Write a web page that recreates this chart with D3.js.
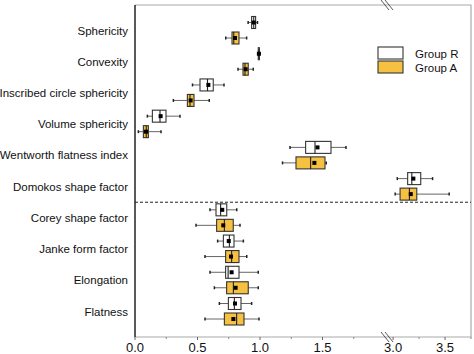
<!DOCTYPE html>
<html>
<head>
<meta charset="utf-8">
<script src="https://cdn.jsdelivr.net/npm/d3@7"></script>
<style>
  body { margin: 0; background: #fff; }
  svg { display: block; font-family: "Liberation Sans", Arial, sans-serif; }
</style>
</head>
<body>
<svg></svg>
<script>
const [svgWidth, svgHeight] = [474, 354];

const categories = ['Sphericity', 'Convexity', 'Inscribed circle sphericity', 'Volume sphericity',
  'Wentworth flatness index', 'Domokos shape factor', 'Corey shape factor', 'Janke form factor',
  'Elongation', 'Flatness'];
// [whisker low, Q1, median, Q3, whisker high, mean]
const groupR = [
  [0.905, 0.933, 0.950, 0.965, 0.980, 0.950],
  [0.982, 0.986, 0.991, 0.995, 1.000, 0.991],
  [0.460, 0.520, 0.580, 0.626, 0.712, 0.587],
  [0.099, 0.139, 0.200, 0.248, 0.360, 0.205],
  [1.240, 1.365, 1.440, 1.568, 1.688, 1.460],
  [3.040, 3.140, 3.180, 3.266, 3.380, 3.195],
  [0.600, 0.648, 0.685, 0.734, 0.814, 0.698],
  [0.661, 0.707, 0.755, 0.792, 0.867, 0.750],
  [0.600, 0.725, 0.745, 0.832, 0.986, 0.773],
  [0.675, 0.747, 0.795, 0.848, 0.933, 0.800]
];
const groupA = [
  [0.726, 0.776, 0.790, 0.832, 0.893, 0.800],
  [0.824, 0.864, 0.880, 0.906, 0.946, 0.885],
  [0.307, 0.419, 0.440, 0.472, 0.594, 0.445],
  [0.027, 0.067, 0.090, 0.107, 0.208, 0.088],
  [1.180, 1.288, 1.405, 1.520, 1.530, 1.435],
  [3.020, 3.067, 3.157, 3.228, 3.540, 3.170],
  [0.488, 0.653, 0.715, 0.786, 0.840, 0.706],
  [0.560, 0.725, 0.773, 0.832, 0.894, 0.768],
  [0.635, 0.733, 0.787, 0.906, 0.986, 0.805],
  [0.560, 0.715, 0.813, 0.872, 0.992, 0.787]
];
const groups = ['Group R', 'Group A'];
const groupColors = ['#ffffff', '#f6c040'];
const majorTicks = [0, 0.5, 1.0, 1.5, 3.0, 3.5];
const minorTicks = [0.25, 0.75, 1.25, 1.75, 3.25, 3.75];

const [plotL, plotR, plotT, plotB] = [135, 471, 5, 337];
const breakX = 387;

const svg = d3.select('svg')
  .attr('width', svgWidth)
  .attr('height', svgHeight);

const x1 = d3.scaleLinear().domain([0, 2.0]).range([plotL, 385]);
const x2 = d3.scaleLinear().domain([2.97, 3.75]).range([390, plotR]);
const x = v => v < 2.5 ? x1(v) : x2(v);
const y = d3.scalePoint().domain(categories).range([30.5, 311.5]);
const offsets = [-8, 7.5];
const boxH = 12;

// frame
svg.append('path')
  .attr('d', `M${plotL},${plotT}H${plotR}V${plotB}H${plotL}`)
  .attr('fill', 'none')
  .attr('stroke', '#aaa')
  .attr('stroke-width', 1.2);
svg.append('line')
  .attr('x1', plotL).attr('x2', plotL)
  .attr('y1', plotT).attr('y2', plotB)
  .attr('stroke', '#222')
  .attr('stroke-width', 1.5);

// ticks
const tickG = svg.append('g');
tickG.selectAll('.major')
  .data(majorTicks)
  .join('line')
  .attr('class', 'major')
  .attr('x1', d => x(d)).attr('x2', d => x(d))
  .attr('y1', plotB).attr('y2', plotB + 3)
  .attr('stroke', '#666');
tickG.selectAll('.minor')
  .data(minorTicks)
  .join('line')
  .attr('class', 'minor')
  .attr('x1', d => x(d)).attr('x2', d => x(d))
  .attr('y1', plotB).attr('y2', plotB + 2)
  .attr('stroke', '#888');
tickG.selectAll('text')
  .data(majorTicks)
  .join('text')
  .attr('x', d => x(d))
  .attr('y', 347)
  .attr('text-anchor', 'middle')
  .attr('dominant-baseline', 'central')
  .attr('font-size', 13)
  .attr('fill', '#111')
  .text(d => d.toFixed(1));

// axis break marks
[plotT, plotB].forEach(yy => {
  [-2, 2].forEach(dx => {
    svg.append('line')
      .attr('x1', breakX + dx - 4).attr('y1', yy - 5)
      .attr('x2', breakX + dx + 4).attr('y2', yy + 5)
      .attr('stroke', '#444')
      .attr('stroke-width', 0.9);
  });
});

// category labels
svg.append('g').selectAll('text')
  .data(categories)
  .join('text')
  .attr('x', 128)
  .attr('y', d => y(d))
  .attr('text-anchor', 'end')
  .attr('dominant-baseline', 'central')
  .attr('font-size', 11.5)
  .attr('fill', '#111')
  .text(d => d);

// separator
const sepY = (y(categories[5]) + y(categories[6])) / 2;
svg.append('line')
  .attr('x1', plotL).attr('x2', plotR)
  .attr('y1', sepY).attr('y2', sepY)
  .attr('stroke', '#222')
  .attr('stroke-dasharray', '3,2');

// boxes
[groupR, groupA].forEach((series, gi) => {
  const g = svg.append('g');
  const rows = g.selectAll('g')
    .data(series.map((s, i) => ({ cat: categories[i], s })))
    .join('g')
    .attr('transform', d => `translate(0, ${y(d.cat) + offsets[gi]})`);
  rows.append('line')
    .attr('x1', d => x(d.s[0])).attr('x2', d => x(d.s[4]))
    .attr('stroke', '#555')
    .attr('stroke-width', 0.9);
  rows.selectAll('.cap')
    .data(d => [d.s[0], d.s[4]])
    .join('line')
    .attr('class', 'cap')
    .attr('x1', d => x(d)).attr('x2', d => x(d))
    .attr('y1', -1.5).attr('y2', 1.5)
    .attr('stroke', '#222')
    .attr('stroke-width', 1.5);
  rows.append('rect')
    .attr('x', d => x(d.s[1]))
    .attr('width', d => x(d.s[3]) - x(d.s[1]))
    .attr('y', -boxH / 2)
    .attr('height', boxH)
    .attr('fill', groupColors[gi])
    .attr('stroke', '#333')
    .attr('stroke-width', 1.1);
  rows.append('line')
    .attr('x1', d => x(d.s[2])).attr('x2', d => x(d.s[2]))
    .attr('y1', -boxH / 2).attr('y2', boxH / 2)
    .attr('stroke', '#222')
    .attr('stroke-width', 1.1);
  rows.append('rect')
    .attr('x', d => x(d.s[5]) - 2)
    .attr('y', -2)
    .attr('width', 4)
    .attr('height', 4)
    .attr('fill', '#000');
});

// legend
const legend = svg.append('g')
  .attr('transform', 'translate(378, 47)');
const legendItem = legend.selectAll('g')
  .data(groups)
  .join('g')
  .attr('transform', (d, i) => `translate(0, ${i * 14})`);
legendItem.append('rect')
  .attr('width', 25)
  .attr('height', 12)
  .attr('fill', (d, i) => groupColors[i])
  .attr('stroke', '#333')
  .attr('stroke-width', 1.1);
legendItem.append('text')
  .attr('x', 37)
  .attr('y', 6.5)
  .attr('dominant-baseline', 'central')
  .attr('font-size', 11.5)
  .attr('fill', '#111')
  .text(d => d);
</script>
</body>
</html>
